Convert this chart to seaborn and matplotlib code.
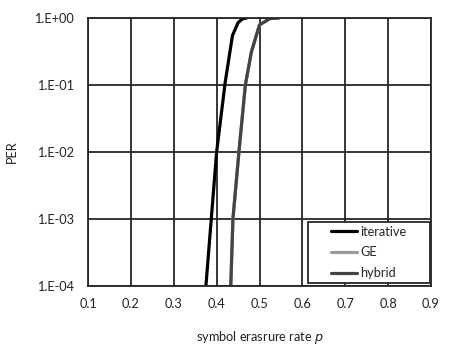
import numpy as np
import pandas as pd
import matplotlib
matplotlib.use("Agg")
import matplotlib.pyplot as plt
from matplotlib.legend_handler import HandlerLine2D
import seaborn as sns

# erasure rates and packet error rates per decoder
p_iterative = [0.375, 0.400, 0.420, 0.437, 0.450, 0.460, 0.470]
per_iterative = [1e-4, 1e-2, 1.1e-1, 5.5e-1, 8.5e-1, 9.7e-1, 1.0]

p_ge = [0.433, 0.438, 0.452, 0.467, 0.481, 0.500, 0.524, 0.545]
per_ge = [1e-4, 1e-3, 1e-2, 1e-1, 3.1e-1, 7.9e-1, 9.8e-1, 1.0]

p_hybrid = [0.433, 0.438, 0.452, 0.467, 0.481, 0.500, 0.524, 0.545]
per_hybrid = [1e-4, 1e-3, 1e-2, 1e-1, 3.1e-1, 7.9e-1, 9.8e-1, 1.0]

series_names = ["iterative", "GE", "hybrid"]
series_colors = ["#000000", "#9a9a9a", "#444444"]

x_ticks = [0.1, 0.2, 0.3, 0.4, 0.5, 0.6, 0.7, 0.8, 0.9]
y_ticks = [1e-4, 1e-3, 1e-2, 1e-1, 1e0]
y_tick_labels = ["1.E-04", "1.E-03", "1.E-02", "1.E-01", "1.E+00"]

df = pd.concat([
    pd.DataFrame({"p": p_iterative, "PER": per_iterative, "decoder": "iterative"}),
    pd.DataFrame({"p": p_ge, "PER": per_ge, "decoder": "GE"}),
    pd.DataFrame({"p": p_hybrid, "PER": per_hybrid, "decoder": "hybrid"}),
], ignore_index=True)

sns.set_style("white")
plt.rcParams["font.family"] = ["Lato", "DejaVu Sans"]
FS = 9.2

fig = plt.figure(figsize=(4.74, 3.46), dpi=100)
ax = fig.add_axes([88 / 474, 1 - 286 / 346, (431 - 88) / 474, (286 - 18) / 346])

sns.lineplot(data=df, x="p", y="PER", hue="decoder", hue_order=series_names,
             palette=series_colors, sort=False, estimator=None, linewidth=2.3,
             ax=ax, legend=False)

ax.set_yscale("log")
ax.set_xlim(0.1, 0.9)
ax.set_ylim(1e-4, 1.0)
ax.set_xticks(x_ticks)
ax.set_xticklabels([f"{t:.1f}" for t in x_ticks])
ax.set_yticks(y_ticks)
ax.set_yticklabels(y_tick_labels)
ax.yaxis.set_minor_locator(matplotlib.ticker.NullLocator())
ax.tick_params(axis="both", length=0, labelsize=FS, colors="#222222")
ax.tick_params(axis="x", pad=9)
ax.tick_params(axis="y", pad=10)

ax.grid(True, which="major", color="#262626", linewidth=1.3)
ax.set_axisbelow(True)
for s in ax.spines.values():
    s.set_color("#262626")
    s.set_linewidth(1.3)

ax.set_xlabel("symbol erasrure rate $\\it{p}$", fontsize=FS, labelpad=13, color="#222222")
ax.set_ylabel("PER", fontsize=FS, labelpad=12, color="#222222")


class IndentedLine(HandlerLine2D):
    """Legend line drawn only over the right part of the handle box."""

    def create_artists(self, legend, orig_handle, xdescent, ydescent,
                       width, height, fontsize, trans):
        artists = super().create_artists(legend, orig_handle, xdescent, ydescent,
                                         width, height, fontsize, trans)
        for a in artists:
            xd = np.asarray(a.get_xdata(), dtype=float)
            if len(xd) >= 2:
                a.set_xdata(np.linspace(xd[-1] - 19.0, xd[-1], len(xd)))
        return artists


handles = [matplotlib.lines.Line2D([], [], color=c, linewidth=2.3) for c in series_colors]
leg = ax.legend(handles, series_names, loc="lower left",
                bbox_to_anchor=(220 / 343, 3 / 268, 122 / 343, 0.2),
                mode="expand", fontsize=FS, frameon=True, fancybox=False,
                handlelength=3.55, handletextpad=0.25, labelspacing=0.68,
                borderpad=0.3, borderaxespad=0.0,
                handler_map={matplotlib.lines.Line2D: IndentedLine()})
leg.get_frame().set_edgecolor("#262626")
leg.get_frame().set_linewidth(1.3)
leg.get_frame().set_alpha(1.0)

fig.savefig("out.png", dpi=100, facecolor="white")
